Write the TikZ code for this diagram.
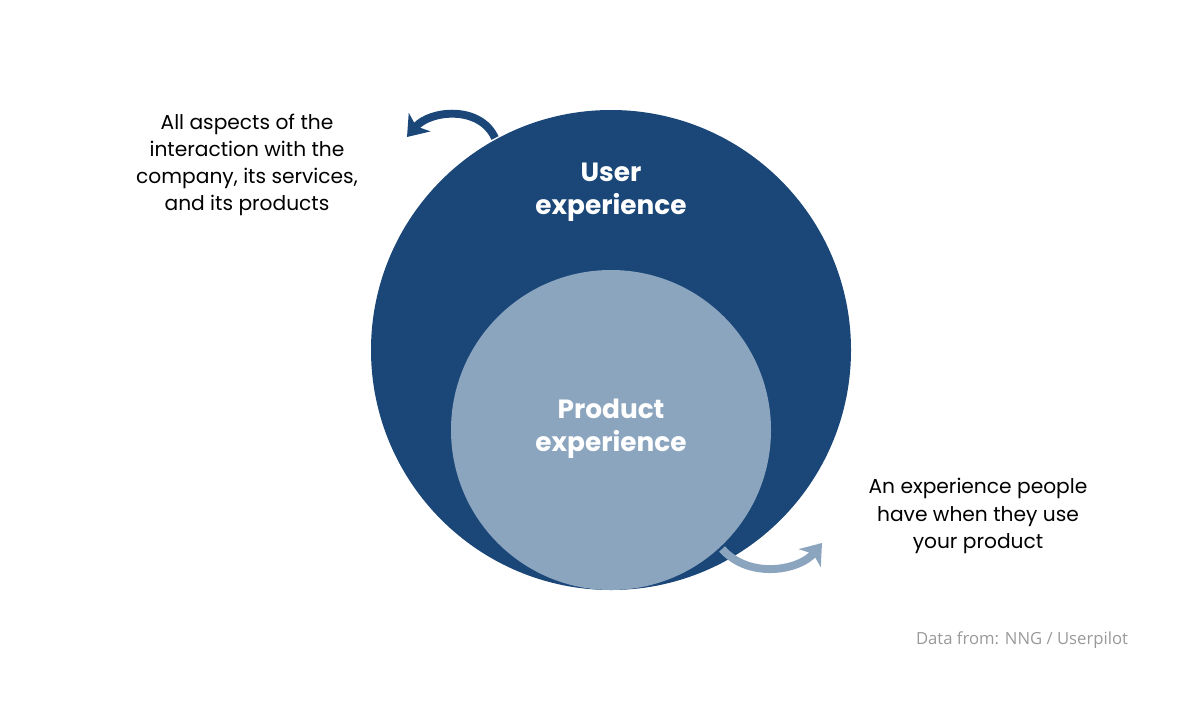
\documentclass[tikz,border=0pt]{standalone}
\usepackage{fontspec}
\setmainfont{Poppins}
\newfontfamily\notefont{Open Sans}
\usetikzlibrary{arrows.meta}
\definecolor{uxblue}{HTML}{1A4778}
\definecolor{pxblue}{HTML}{8CA5BF}
\tikzset{
  circtext/.style={font=\fontsize{15}{19}\selectfont\bfseries, text=white, align=center},
  side/.style={font=\fontsize{11.5}{15.5}\selectfont, text=black, align=center},
  curvearrow/.style={line width=4.5pt, -{Stealth[length=11pt,width=16pt,inset=3pt]}}
}
\begin{document}
\begin{tikzpicture}[x=0.02cm,y=-0.02cm]
  \useasboundingbox (0,0) rectangle (1200,700);
  % circles
  \fill[uxblue] (611,350) circle (240);
  \fill[pxblue] (611,430) circle (160);
  \node[circtext] (ux) at (611,192) {User\\experience};
  \node[circtext] (px) at (611,429) {Product\\experience};
  % notes
  \node[side] (uxnote) at (247,165) {All aspects of the\\interaction with the\\company, its services,\\and its products};
  \node[side] (pxnote) at (978,516) {An experience people\\have when they use\\your product};
  \coordinate (uxa) at (495,138);
  \coordinate (uxb) at (407,137);
  \coordinate (pxa) at (722,549);
  \coordinate (pxb) at (822,543);
  \draw[curvearrow, uxblue] (uxa) .. controls (480,105) and (430,110) .. (uxb);
  \draw[curvearrow, pxblue] (pxa) .. controls (750,580) and (800,570) .. (pxb);
  \node[font=\notefont\fontsize{9.5}{12}\selectfont, text=black!40] (src) at (1022,640) {Data from: NNG / Userpilot};
\end{tikzpicture}
\end{document}
